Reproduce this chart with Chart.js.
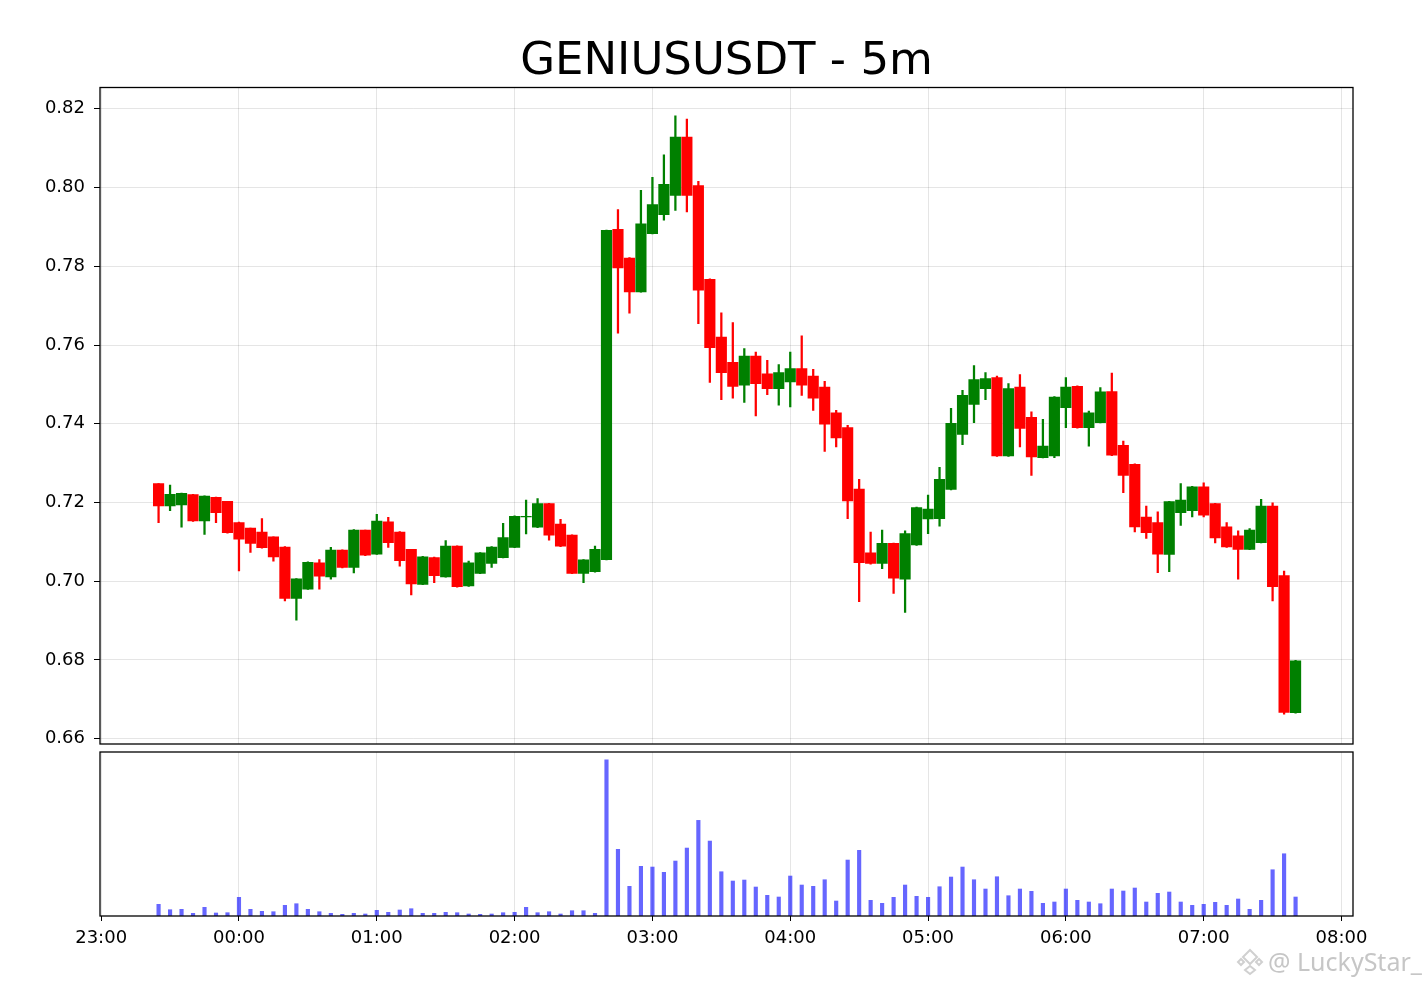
<!DOCTYPE html>
<html>
<head>
<meta charset="utf-8">
<title>GENIUSUSDT - 5m</title>
<script src="https://cdn.jsdelivr.net/npm/chart.js"></script>
<style>
    html, body { margin: 0; padding: 0; background: #fff; }
    #wrap { position: relative; width: 1425px; height: 989px; overflow: hidden; }
    #wrap canvas { position: absolute; left: 0; top: 0; }
    #mark { position: absolute; left: 1236px; top: 944px; color: #c6c6c6; font-family: "Noto Sans", sans-serif; font-size: 25px; white-space: nowrap; }
    #mark svg { vertical-align: -5px; margin-right: 4px; }
</style>
</head>
<body>
<div id="wrap">
    <canvas id="price-chart" width="1425" height="989"></canvas>
    <canvas id="volume-chart" width="1425" height="989"></canvas>
    <div id="mark"><svg width="28" height="28" viewBox="0 0 28 28"><g fill="none" stroke="#d0d0d0" stroke-width="2"><path d="M14 2 L21 9 L14 16 L7 9 Z"/><path d="M5 11 L8 14 L5 17 L2 14 Z"/><path d="M23 11 L26 14 L23 17 L20 14 Z"/><path d="M14 18 L19 22 L14 26 L9 22 Z"/></g></svg>@ LuckyStar_</div>
</div>
<script>
    // candles: 5m, first one at 23:25 (minutes counted from 23:00)
    var firstCandle = 25;
    var candleStep = 5;

    var opens = [0.7248, 0.7191, 0.7194, 0.7220, 0.7153, 0.7213, 0.7203, 0.7149, 0.7135, 0.7125,
        0.7113, 0.7087, 0.6956, 0.6980, 0.7047, 0.7011, 0.7079, 0.7035, 0.7130, 0.7069,
        0.7151, 0.7125, 0.7081, 0.6992, 0.7060, 0.7011, 0.7089, 0.6988, 0.7020, 0.7045,
        0.7060, 0.7086, 0.7163, 0.7137, 0.7197, 0.7145, 0.7117, 0.7020, 0.7024, 0.7055,
        0.7894, 0.7821, 0.7735, 0.7883, 0.7931, 0.7980, 0.8128, 0.8005, 0.7767, 0.7620,
        0.7556, 0.7498, 0.7572, 0.7527, 0.7489, 0.7506, 0.7540, 0.7521, 0.7493, 0.7428,
        0.7390, 0.7234, 0.7072, 0.7045, 0.7096, 0.7005, 0.7092, 0.7158, 0.7159, 0.7233,
        0.7373, 0.7449, 0.7489, 0.7517, 0.7318, 0.7493, 0.7416, 0.7314, 0.7318, 0.7441,
        0.7495, 0.7390, 0.7403, 0.7482, 0.7345, 0.7297, 0.7163, 0.7149, 0.7068, 0.7174,
        0.7179, 0.7240, 0.7197, 0.7138, 0.7115, 0.7081, 0.7098, 0.7191, 0.7014, 0.6666];
    var highs = [0.7248, 0.7244, 0.7224, 0.7221, 0.7217, 0.7214, 0.7203, 0.7150, 0.7135, 0.7159,
        0.7113, 0.7088, 0.7007, 0.7049, 0.7055, 0.7086, 0.7080, 0.7131, 0.7130, 0.7170,
        0.7162, 0.7126, 0.7081, 0.7063, 0.7061, 0.7103, 0.7090, 0.7051, 0.7073, 0.7088,
        0.7147, 0.7166, 0.7206, 0.7210, 0.7198, 0.7157, 0.7118, 0.7055, 0.7089, 0.7892,
        0.7944, 0.7822, 0.7993, 0.8026, 0.8083, 0.8182, 0.8174, 0.8016, 0.7768, 0.7682,
        0.7657, 0.7591, 0.7582, 0.7561, 0.7550, 0.7582, 0.7623, 0.7538, 0.7508, 0.7434,
        0.7396, 0.7259, 0.7125, 0.7130, 0.7097, 0.7128, 0.7188, 0.7219, 0.7289, 0.7439,
        0.7485, 0.7548, 0.7530, 0.7521, 0.7502, 0.7525, 0.7430, 0.7411, 0.7469, 0.7517,
        0.7496, 0.7432, 0.7492, 0.7529, 0.7356, 0.7298, 0.7191, 0.7176, 0.7203, 0.7248,
        0.7241, 0.7250, 0.7198, 0.7149, 0.7128, 0.7134, 0.7208, 0.7199, 0.7026, 0.6799];
    var lows = [0.7149, 0.7179, 0.7137, 0.7152, 0.7119, 0.7149, 0.7122, 0.7026, 0.7073, 0.7084,
        0.7051, 0.6950, 0.6901, 0.6979, 0.6980, 0.7005, 0.7034, 0.7021, 0.7065, 0.7068,
        0.7086, 0.7038, 0.6965, 0.6991, 0.6996, 0.7010, 0.6985, 0.6987, 0.7019, 0.7035,
        0.7059, 0.7085, 0.7120, 0.7136, 0.7104, 0.7088, 0.7019, 0.6996, 0.7023, 0.7054,
        0.7630, 0.7681, 0.7734, 0.7882, 0.7917, 0.7942, 0.7938, 0.7654, 0.7505, 0.7461,
        0.7465, 0.7454, 0.7420, 0.7474, 0.7447, 0.7443, 0.7472, 0.7434, 0.7330, 0.7341,
        0.7159, 0.6948, 0.7043, 0.7032, 0.6969, 0.6921, 0.7091, 0.7121, 0.7140, 0.7232,
        0.7347, 0.7403, 0.7461, 0.7317, 0.7317, 0.7341, 0.7269, 0.7313, 0.7314, 0.7390,
        0.7389, 0.7343, 0.7402, 0.7319, 0.7225, 0.7125, 0.7109, 0.7022, 0.7024, 0.7142,
        0.7163, 0.7163, 0.7097, 0.7086, 0.7005, 0.7080, 0.7097, 0.6950, 0.6662, 0.6665];
    var closes = [0.7191, 0.7221, 0.7223, 0.7153, 0.7216, 0.7174, 0.7123, 0.7107, 0.7096, 0.7085,
        0.7062, 0.6956, 0.7006, 0.7048, 0.7013, 0.7079, 0.7035, 0.7130, 0.7066, 0.7153,
        0.7098, 0.7052, 0.6993, 0.7062, 0.7014, 0.7089, 0.6986, 0.7047, 0.7072, 0.7087,
        0.7111, 0.7165, 0.7165, 0.7197, 0.7117, 0.7089, 0.7020, 0.7054, 0.7081, 0.7891,
        0.7796, 0.7735, 0.7908, 0.7957, 0.8008, 0.8128, 0.7980, 0.7739, 0.7593, 0.7530,
        0.7495, 0.7572, 0.7502, 0.7489, 0.7530, 0.7540, 0.7498, 0.7465, 0.7399, 0.7364,
        0.7204, 0.7047, 0.7045, 0.7096, 0.7008, 0.7121, 0.7187, 0.7183, 0.7259, 0.7401,
        0.7472, 0.7512, 0.7515, 0.7318, 0.7489, 0.7388, 0.7316, 0.7343, 0.7468, 0.7493,
        0.7390, 0.7428, 0.7481, 0.7320, 0.7269, 0.7138, 0.7123, 0.7069, 0.7202, 0.7206,
        0.7240, 0.7168, 0.7110, 0.7087, 0.7081, 0.7130, 0.7191, 0.6986, 0.6667, 0.6798];
    var volumes = [117, 63, 67, 27, 87, 30, 33, 187, 67, 47,
        43, 107, 123, 67, 43, 27, 17, 27, 20, 57,
        37, 60, 73, 27, 27, 37, 33, 20, 17, 20,
        33, 37, 87, 33, 43, 20, 53, 53, 27, 1563,
        667, 297, 497, 490, 437, 550, 680, 957, 750, 443,
        350, 360, 290, 207, 190, 400, 310, 297, 363, 150,
        560, 657, 157, 127, 187, 310, 197, 187, 293, 390,
        490, 363, 270, 393, 203, 270, 247, 127, 140, 270,
        157, 140, 123, 270, 250, 280, 140, 227, 240, 140,
        107, 117, 137, 107, 170, 67, 157, 463, 623, 190];

    var hourLabels = ['23:00', '00:00', '01:00', '02:00', '03:00', '04:00', '05:00', '06:00', '07:00', '08:00'];
    var priceTicks = [0.66, 0.68, 0.70, 0.72, 0.74, 0.76, 0.78, 0.80, 0.82];


    // Global look
    Chart.defaults.font.family = "'DejaVu Sans', sans-serif";
    Chart.defaults.color = "#000";

    var gridColor = "rgba(0, 0, 0, 0.1)";
    var upColor = "#008000";
    var downColor = "#ff0000";

    var times = [];
    var candleColors = [];
    for (var i = 0; i < opens.length; i++) {
        times.push(firstCandle + i * candleStep);
        candleColors.push(closes[i] >= opens[i] ? upColor : downColor);
    }

    var hourTicks = function (scale) {
        scale.ticks = hourLabels.map(function (l, i) { return {value: i * 60}; });
    };

    // black box round each panel
    var frame = {
        id: 'frame',
        afterDraw: function (chart) {
            var a = chart.chartArea;
            var c = chart.ctx;
            c.save();
            c.strokeStyle = "#000";
            c.lineWidth = 1.3;
            c.strokeRect(a.left, a.top, a.right - a.left, a.bottom - a.top);
            c.restore();
        }
    };


    // Price Chart
    var ctx1 = document.getElementById("price-chart").getContext("2d");
    var myChart1 = new Chart(ctx1, {
        type: "bar",
        data: {
            datasets: [{
                    label: "body",
                    data: times.map(function (t, i) { return {x: t, y: [opens[i], closes[i]]}; }),
                    backgroundColor: candleColors,
                    barThickness: 10.5,
                    grouped: false
                },
                {
                    label: "wick",
                    data: times.map(function (t, i) { return {x: t, y: [lows[i], highs[i]]}; }),
                    backgroundColor: candleColors,
                    barThickness: 1.6,
                    grouped: false
                }
            ]
        },
        options: {
            responsive: false,
            animation: false,
            events: [],
            layout: {padding: {left: 0, right: 72, top: 0, bottom: 245}},
            plugins: {
                legend: {display: false},
                tooltip: {enabled: false},
                title: {
                    display: true,
                    fullSize: false,   // centre over the plot, not the canvas
                    text: "GENIUSUSDT - 5m",
                    color: "#000",
                    font: {size: 45, weight: "normal", lineHeight: 1.1},
                    padding: {top: 38, bottom: 0}
                }
            },
            scales: {
                x: {
                    type: "linear",
                    min: -0.5,
                    max: 545,
                    offset: false,
                    afterBuildTicks: hourTicks,
                    afterFit: function (s) { s.height = 0; },
                    ticks: {display: false},
                    grid: {color: gridColor, offset: false, drawTicks: false},
                    border: {display: false}
                },
                y: {
                    min: 0.65865,
                    max: 0.82541,
                    beginAtZero: false,
                    afterBuildTicks: function (s) {
                        s.ticks = priceTicks.map(function (v) { return {value: v}; });
                    },
                    afterFit: function (s) { s.width = 100; },
                    ticks: {
                        font: {size: 18},
                        padding: 9,
                        callback: function (v) { return v.toFixed(2); }
                    },
                    grid: {color: gridColor, tickColor: "#000", tickLength: 6},
                    border: {display: false}
                }
            }
        },
        plugins: [frame]
    });


    // Volume Chart
    var ctx2 = document.getElementById("volume-chart").getContext("2d");
    var myChart2 = new Chart(ctx2, {
        type: "bar",
        data: {
            datasets: [{
                label: "volume",
                data: times.map(function (t, i) { return {x: t, y: volumes[i]}; }),
                backgroundColor: "rgba(0, 0, 255, 0.6)",
                barThickness: 3.5
            }]
        },
        options: {
            responsive: false,
            animation: false,
            events: [],
            layout: {padding: {left: 0, right: 72, top: 752, bottom: 0}},
            plugins: {
                legend: {display: false},
                tooltip: {enabled: false}
            },
            scales: {
                x: {
                    type: "linear",
                    min: -0.5,
                    max: 545,
                    offset: false,
                    afterBuildTicks: hourTicks,
                    afterFit: function (s) { s.height = 73; },
                    ticks: {
                        font: {size: 18},
                        padding: 7,
                        maxRotation: 0,
                        autoSkip: false,
                        callback: function (v, i) { return hourLabels[i]; }
                    },
                    grid: {color: gridColor, offset: false, tickColor: "#000", tickLength: 5},
                    border: {display: false}
                },
                y: {
                    min: 0,
                    max: Math.max.apply(null, volumes) * 1.05,
                    afterFit: function (s) { s.width = 100; },
                    ticks: {display: false},
                    grid: {display: false},
                    border: {display: false}
                }
            }
        },
        plugins: [frame]
    });
</script>
</body>
</html>
